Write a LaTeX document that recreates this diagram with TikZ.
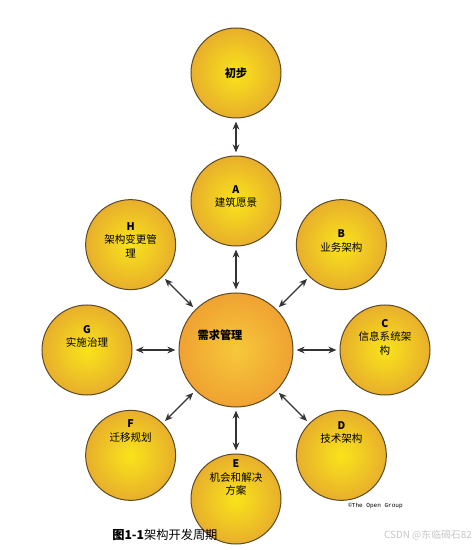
\documentclass[tikz,border=0pt]{standalone}
\usepackage{fontspec}
\setmainfont{Noto Sans CJK SC}
\setmonofont{Liberation Mono}
\usetikzlibrary
  {
    arrows.meta,  % stealth tips
    positioning,  % place nodes relative to other nodes
    calc,
  }

\definecolor{ringedge}{HTML}{E8AF2C}
\definecolor{ringcore}{HTML}{F9E41A}
\definecolor{hubedge}{HTML}{F0A232}
\definecolor{hubcore}{HTML}{F6C83A}
\definecolor{rimline}{HTML}{5C4A26}
\definecolor{linkline}{HTML}{333333}

\begin{document}
\begin{tikzpicture}
    [
      x=0.25mm, y=0.25mm,
      >={Stealth[length=2mm,width=1.7mm]},
      phase/.style=
        {
          circle,
          draw=rimline,
          line width=0.25mm,
          inner color=ringcore,
          outer color=ringedge,
          minimum size=22.5mm,
          inner sep=0pt,
          outer sep=0.9mm,
        },
      hub/.style=
        {
          phase,
          inner color=hubcore,
          outer color=hubedge,
          minimum size=28.5mm,
        },
      tag/.style=
        {
          align=center,
          inner sep=0pt,
          font=\fontsize{7.5pt}{9.6pt}\selectfont,
        },
      link/.style=
        {
          <->,
          draw=linkline,
          line width=0.3mm,
        },
    ]
    \useasboundingbox (0,0) rectangle (474,550);

    \node[hub]   (hub)   at (236,200)         {};
    \foreach \name/\ang in {A/90,B/45,C/0,D/-45,E/-90,F/-135,G/180,H/135}
      \node[phase] (\name) at ($(hub)+(\ang:149)$) {};
    \node[phase] (start) [above=7.7mm of A]  {};

    \draw [link] (start) -- (A);
    \foreach \name in {A,B,C,D,E,F,G,H}
      \draw [link] (hub) -- (\name);

    % texts inside the circles
    \node[tag, font=\fontsize{8pt}{10pt}\selectfont\bfseries]
      (start text) at (start) {初步};
    \node[tag, font=\fontsize{8pt}{10pt}\selectfont\bfseries]
      (hub text) at ($(hub)+(-16,15)$) {需求管理};
    \foreach \name/\dy/\txt in
      {
        A/4.5/{\textbf{A}\\建筑愿景},
        B/3.5/{\textbf{B}\\业务架构},
        C/13/{\textbf{C}\\信息系统架\\构},
        D/23/{\textbf{D}\\技术架构},
        E/21/{\textbf{E}\\机会和解决\\方案},
        F/24.5/{\textbf{F}\\迁移规划},
        G/13.5/{\textbf{G}\\实施治理},
        H/4.5/{\textbf{H}\\架构变更管\\理}%
      }
      \node[tag] (\name text) at ($(\name)+(0,\dy)$) {\txt};

    \node[anchor=west, inner sep=0pt, font=\ttfamily\fontsize{4.3pt}{5pt}\selectfont]
      (owner) at (348,44) {©The Open Group};
    \node[anchor=west, inner sep=0pt, font=\fontsize{8.7pt}{10pt}\selectfont]
      (caption) at (112,15) {\textbf{图1-1}架构开发周期};
    \node[anchor=east, inner sep=0pt, text=black!22, font=\fontsize{7pt}{9pt}\selectfont]
      (mark) at (472,15) {CSDN @东临碣石82};
  \end{tikzpicture}
\end{document}
